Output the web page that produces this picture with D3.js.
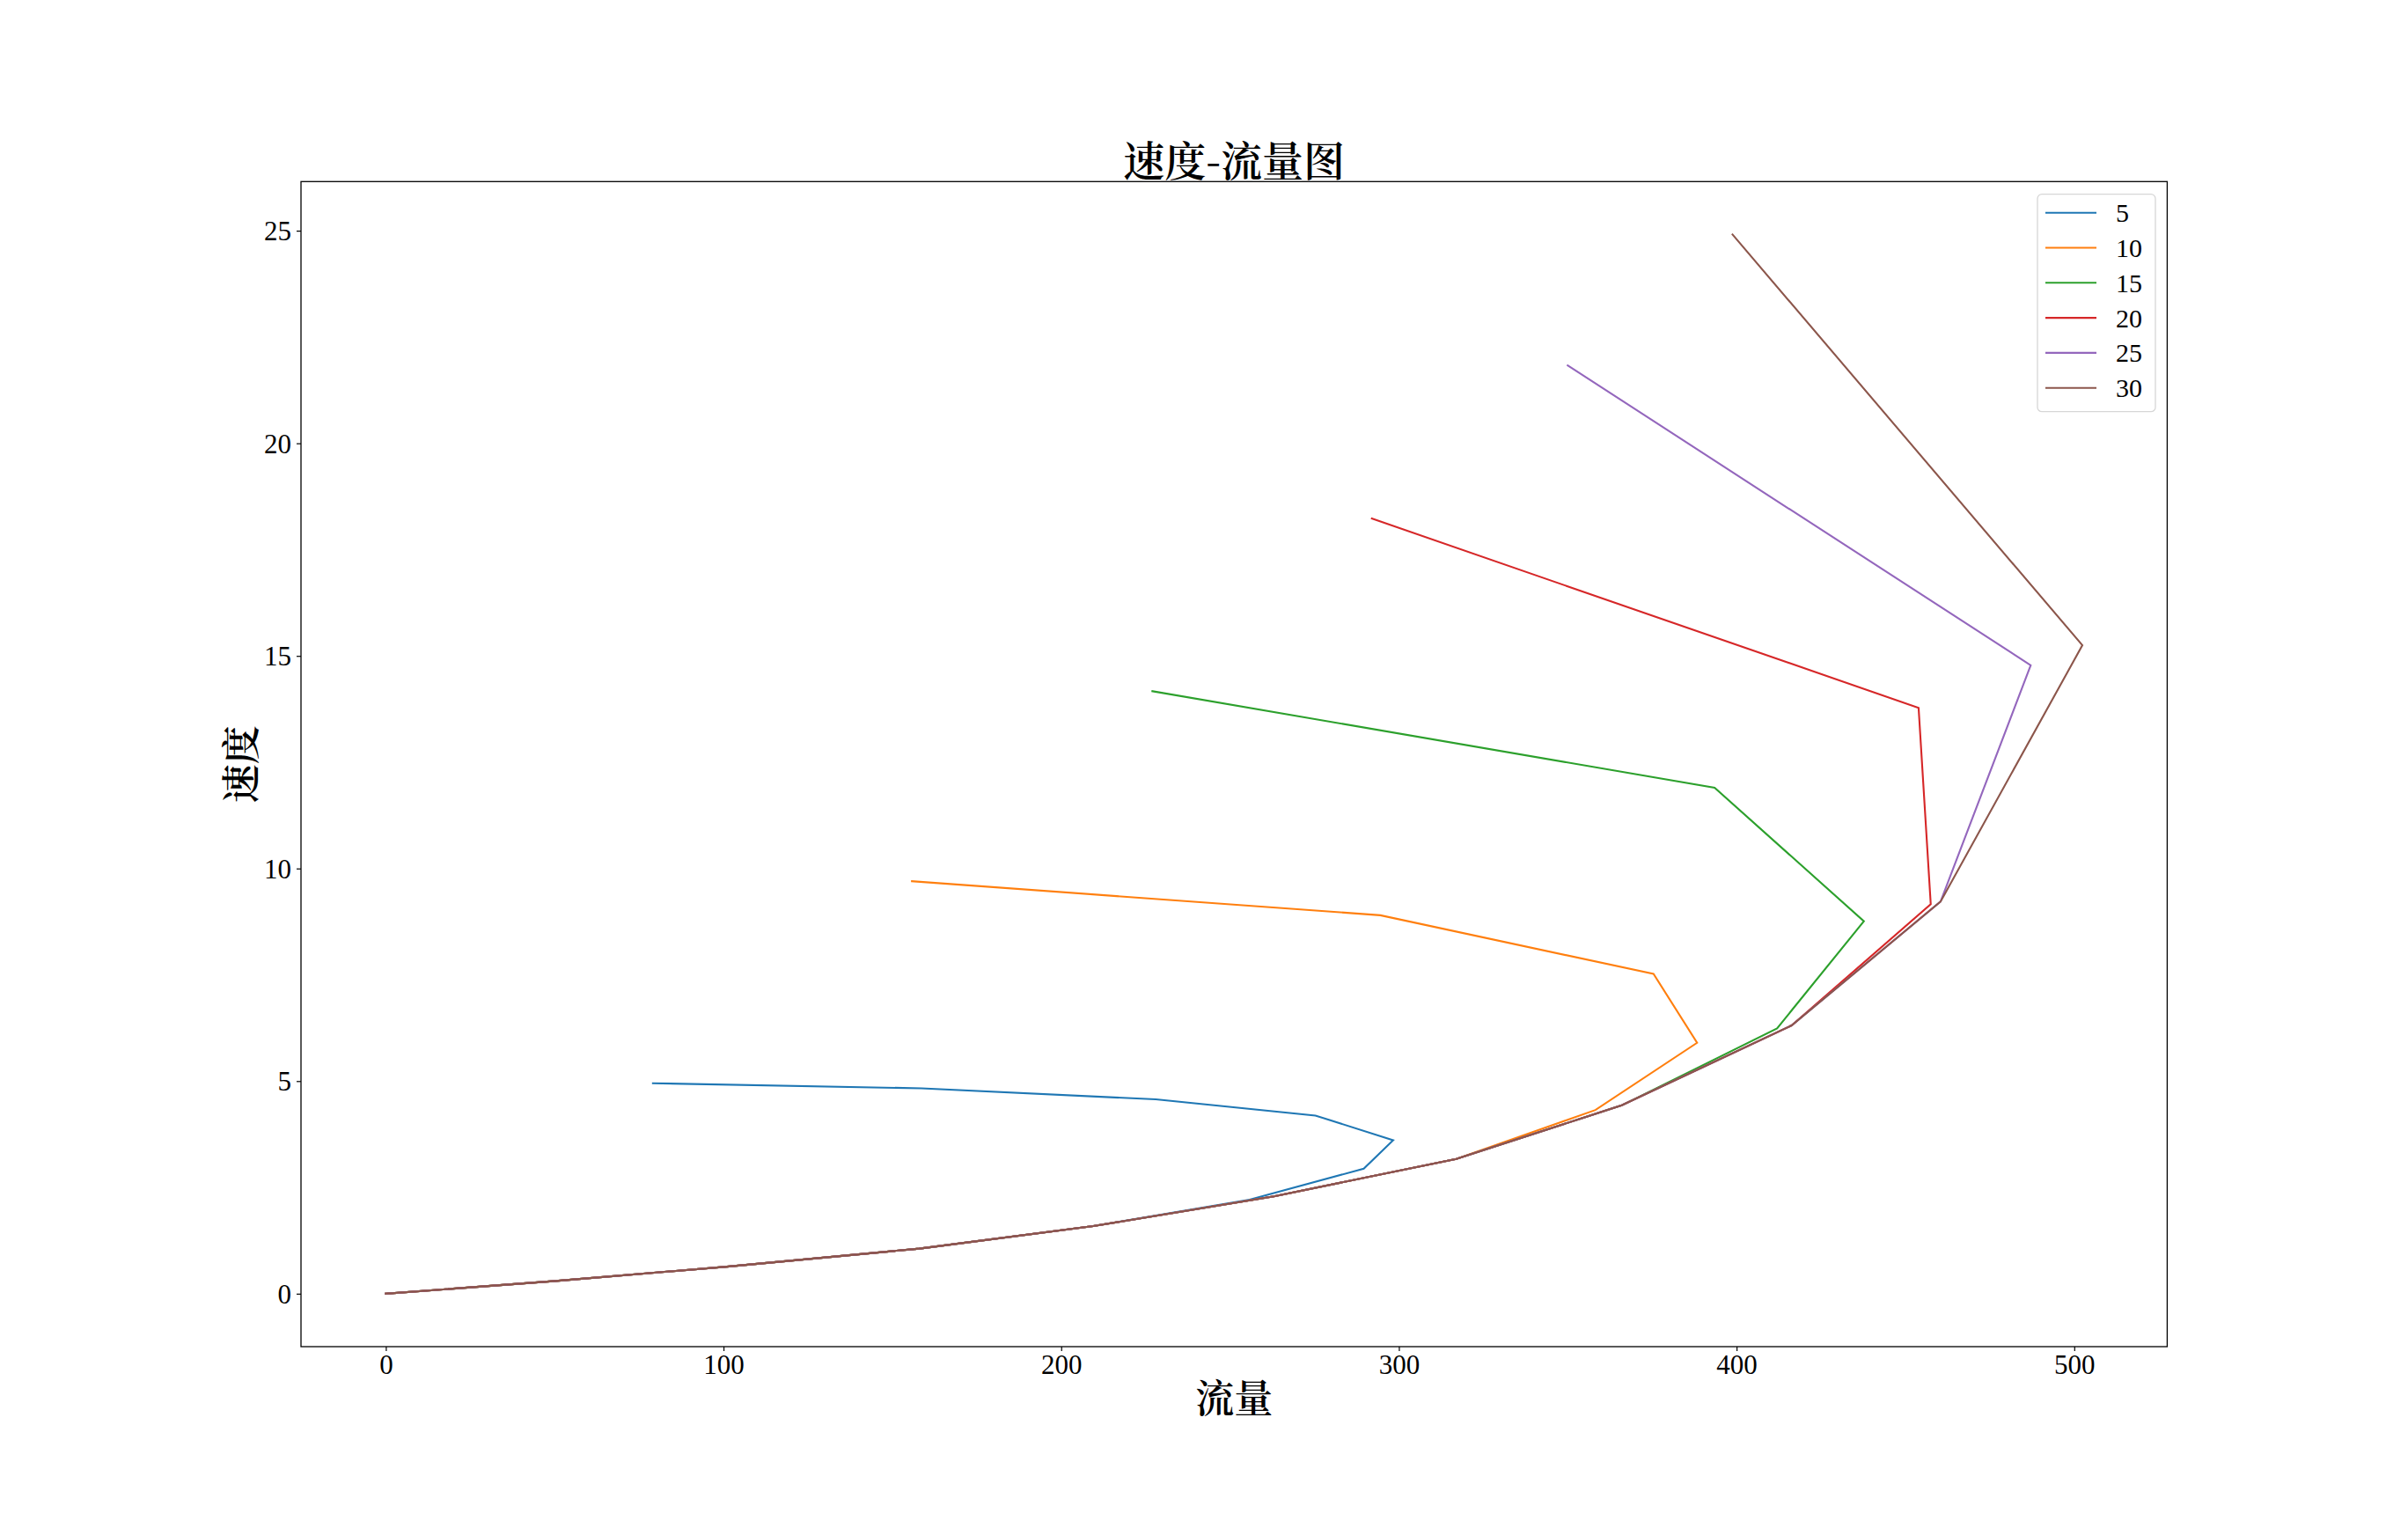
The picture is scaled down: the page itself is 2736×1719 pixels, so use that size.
<!DOCTYPE html>
<html>
<head>
<meta charset="utf-8">
<script src="https://cdn.jsdelivr.net/npm/d3@7"></script>
<style>
  html, body { margin: 0; padding: 0; background: #fff; }
  svg { display: block; }
</style>
</head>
<body>
<svg id="chart" width="2736" height="1719"></svg>
<script>
// ---------------- data ----------------
const seriesLabels = ["5", "10", "15", "20", "25", "30"];
const seriesColors = ["#1f77b4", "#ff7f0e", "#2ca02c", "#d62728", "#9467bd", "#8c564b"];

const flow5   = [0, 50.3, 101, 158, 209.5, 255.8, 289.6, 298.3, 275.3, 228.0, 158.6, 79.1];
const speed5  = [0, 0.30, 0.635, 1.06, 1.59, 2.21, 2.94, 3.61, 4.19, 4.57, 4.83, 4.95];

const flow10  = [0, 50.3, 101, 158, 209.5, 263.0, 317.0, 358.2, 388.3, 375.4, 294.5, 155.8];
const speed10 = [0, 0.30, 0.635, 1.06, 1.59, 2.29, 3.17, 4.32, 5.90, 7.52, 8.90, 9.70];

const flow15  = [0, 50.3, 101, 158, 209.5, 263.0, 317.0, 366.0, 412.0, 437.7, 393.5, 227.0];
const speed15 = [0, 0.30, 0.635, 1.06, 1.59, 2.29, 3.17, 4.43, 6.24, 8.76, 11.90, 14.17];

const flow20  = [0, 50.3, 101, 158, 209.5, 263.0, 317.0, 366.0, 416.3, 457.5, 453.9, 292.0];
const speed20 = [0, 0.30, 0.635, 1.06, 1.59, 2.29, 3.17, 4.43, 6.31, 9.16, 13.78, 18.23];

const flow25  = [0, 50.3, 101, 158, 209.5, 263.0, 317.0, 366.0, 416.3, 460.4, 487.1, 350.0];
const speed25 = [0, 0.30, 0.635, 1.06, 1.59, 2.29, 3.17, 4.43, 6.31, 9.22, 14.78, 21.83];

const flow30  = [0, 50.3, 101, 158, 209.5, 263.0, 317.0, 366.0, 416.3, 460.4, 502.4, 398.8];
const speed30 = [0, 0.30, 0.635, 1.06, 1.59, 2.29, 3.17, 4.43, 6.31, 9.22, 15.25, 24.91];

const xTicks = [0, 100, 200, 300, 400, 500];
const yTicks = [0, 5, 10, 15, 20, 25];

const titleText = "速度-流量图";
const xLabelText = "流量";
const yLabelText = "速度";

// ---------------- build ----------------
(function () {
const flows  = [flow5, flow10, flow15, flow20, flow25, flow30];
const speeds = [speed5, speed10, speed15, speed20, speed25, speed30];
const series = seriesLabels.map((lab, i) => ({
  label: lab,
  color: seriesColors[i],
  points: flows[i].map((q, j) => ({ q: q, v: speeds[i][j] }))
}));

const W = 2736, H = 1719;
const pL = 342, pR = 2462.4, pT = 206.3, pB = 1530;

const allQ = flows.flat(), allV = speeds.flat();
const qMin = d3.min(allQ), qMax = d3.max(allQ);
const vMin = d3.min(allV), vMax = d3.max(allV);
const qPad = (qMax - qMin) * 0.05, vPad = (vMax - vMin) * 0.05;

const x = d3.scaleLinear().domain([qMin - qPad, qMax + qPad]).range([pL, pR]);
const y = d3.scaleLinear().domain([vMin - vPad, vMax + vPad]).range([pB, pT]);

const svg = d3.select("#chart");
const serif = "'Liberation Serif', 'DejaVu Serif', serif";
const cjk = "'Noto Serif CJK SC', 'Noto Sans CJK SC', sans-serif";

svg.append("rect").attr("width", W).attr("height", H).attr("fill", "#fff");

// lines
const line = d3.line().x(d => x(d.q)).y(d => y(d.v));
svg.append("g").selectAll("path").data(series).join("path")
  .attr("d", d => line(d.points))
  .attr("fill", "none")
  .attr("stroke", d => d.color)
  .attr("stroke-width", 2.1)
  .attr("stroke-linejoin", "miter")
  .attr("stroke-linecap", "square");

// axes
const xAxis = svg.append("g").attr("transform", `translate(0,${pB})`)
  .call(d3.axisBottom(x).tickValues(xTicks).tickSize(5).tickPadding(9).tickFormat(d3.format("d")));
const yAxis = svg.append("g").attr("transform", `translate(${pL},0)`)
  .call(d3.axisLeft(y).tickValues(yTicks).tickSize(5).tickPadding(6).tickFormat(d3.format("d")));
[xAxis, yAxis].forEach(g => {
  g.select(".domain").remove();
  g.selectAll(".tick line").attr("stroke", "#000").attr("stroke-width", 1.2);
  g.selectAll(".tick text").attr("fill", "#000").style("font-family", serif).style("font-size", "31px");
});
xAxis.selectAll(".tick text").attr("dy", null).attr("y", 31);
yAxis.selectAll(".tick text").attr("dy", "0.34em");

// frame
svg.append("rect")
  .attr("x", pL).attr("y", pT)
  .attr("width", pR - pL).attr("height", pB - pT)
  .attr("fill", "none").attr("stroke", "#000").attr("stroke-width", 1.3);

// title & labels
svg.append("text").attr("x", (pL + pR) / 2).attr("y", 200)
  .attr("text-anchor", "middle").style("font-family", cjk).style("font-size", "47px")
  .style("font-weight", 600).attr("fill", "#000").text(titleText);
svg.append("text").attr("x", (pL + pR) / 2).attr("y", 1605)
  .attr("text-anchor", "middle").style("font-family", cjk).style("font-size", "44px")
  .style("font-weight", 600).attr("fill", "#000").text(xLabelText);
svg.append("text").attr("transform", `translate(290,${(pT + pB) / 2}) rotate(-90)`)
  .attr("text-anchor", "middle").style("font-family", cjk).style("font-size", "44px")
  .style("font-weight", 600).attr("fill", "#000").text(yLabelText);

// legend
const lgX = 2315, lgY = 220.7, lgW = 134, lgH = 247, rowH = 39.8, row0 = 241.7;
const lg = svg.append("g");
lg.append("rect").attr("x", lgX).attr("y", lgY).attr("width", lgW).attr("height", lgH)
  .attr("rx", 5).attr("ry", 5)
  .attr("fill", "#fff").attr("fill-opacity", 0.8)
  .attr("stroke", "#d6d6d6").attr("stroke-width", 1.3);
const items = lg.selectAll("g.item").data(series).join("g")
  .attr("class", "item")
  .attr("transform", (d, i) => `translate(0,${row0 + i * rowH})`);
items.append("line").attr("x1", 2324).attr("x2", 2382).attr("y1", 0).attr("y2", 0)
  .attr("stroke", d => d.color).attr("stroke-width", 2.1);
items.append("text").attr("x", 2404).attr("y", 10.5)
  .style("font-family", serif).style("font-size", "30px").attr("fill", "#000")
  .text(d => d.label);
})();
</script>
</body>
</html>
